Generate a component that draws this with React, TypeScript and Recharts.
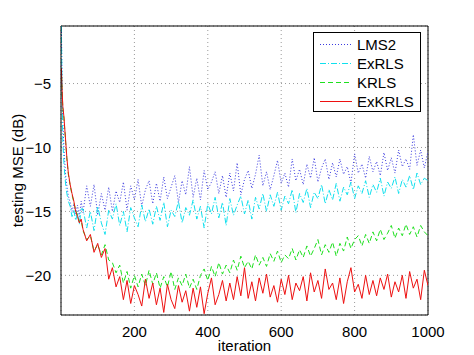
import { LineChart, Line, XAxis, YAxis, CartesianGrid, ReferenceLine } from "recharts";

const iterations = [
  1, 3, 5, 8, 10, 13, 16, 20, 25, 30, 35, 40, 45, 50, 55,
  60, 70, 80, 90, 100, 110, 120, 130, 140, 150,
  160, 170, 180, 190, 200, 210, 220, 230, 240, 250,
  260, 270, 280, 290, 300, 310, 320, 330, 340, 350,
  360, 370, 380, 390, 400, 410, 420, 430, 440, 450,
  460, 470, 480, 490, 500, 510, 520, 530, 540, 550,
  560, 570, 580, 590, 600, 610, 620, 630, 640, 650,
  660, 670, 680, 690, 700, 710, 720, 730, 740, 750,
  760, 770, 780, 790, 800, 810, 820, 830, 840, 850,
  860, 870, 880, 890, 900, 910, 920, 930, 940, 950,
  960, 970, 980, 990, 1000,
];

const lms2 = [
  -0.5, -5.0, -8.0, -10.0, -11.0, -12.3, -13.0, -13.8, -14.3, -15.0, -14.4, -15.2, -14.5, -15.4, -14.2,
  -15.1, -13.0, -14.6, -12.9, -15.3, -13.6, -14.9, -13.1, -15.0, -13.4,
  -14.3, -12.7, -14.9, -13.0, -14.1, -12.5, -14.6, -13.3, -12.6, -14.4,
  -12.8, -14.2, -12.3, -14.0, -13.1, -12.2, -14.3, -12.6, -13.7, -11.5,
  -13.9, -12.4, -14.1, -11.8, -13.3, -12.7, -11.9, -13.6, -12.2, -13.9,
  -12.0, -13.4, -11.2, -13.7, -12.5, -11.8, -13.2, -12.1, -10.6, -13.0,
  -11.9, -13.3, -12.2, -11.0, -12.8, -12.0, -13.1, -10.9, -12.6, -11.7,
  -12.9, -11.3, -12.4, -10.8, -12.7, -11.6, -10.9, -12.5, -11.2, -12.3,
  -10.9, -12.1, -11.5, -12.8, -10.5, -12.0, -11.3, -12.4, -10.7, -11.9,
  -11.1, -12.2, -10.4, -11.8, -10.8, -12.0, -10.2, -11.5, -10.9, -11.7,
  -9.0, -11.4, -10.2, -11.6, -10.3,
];

const exrls = [
  -0.5, -6.0, -9.5, -11.2, -12.0, -13.0, -13.6, -14.2, -14.6, -15.4, -14.9, -15.7, -15.1, -16.0, -14.8,
  -14.8, -16.3, -15.0, -16.5, -14.6, -15.9, -16.8, -14.9, -15.6, -14.4,
  -16.1, -15.0, -16.6, -14.7, -15.5, -16.2, -14.5, -15.8, -14.8, -16.0,
  -14.6, -15.7, -14.3, -16.2, -14.9, -15.4, -14.2, -15.9, -14.7, -15.3,
  -14.1, -15.6, -14.6, -16.3, -14.4, -15.2, -13.9, -15.5, -14.3, -16.1,
  -14.0, -15.3, -14.5, -13.8, -15.2, -14.1, -15.6, -13.9, -14.8, -13.6,
  -15.0, -13.7, -14.6, -13.5, -14.9, -13.8, -14.4, -13.3, -15.1, -13.6,
  -14.3, -13.2, -14.7, -13.5, -14.0, -12.9, -14.4, -13.3, -14.1, -12.8,
  -14.2, -13.1, -13.7, -12.7, -14.0, -13.0, -13.6, -12.6, -13.9, -12.9,
  -13.5, -12.4, -13.8, -12.7, -13.2, -12.3, -13.6, -12.5, -13.1, -12.2,
  -13.3, -12.0, -12.9, -12.4, -12.6,
];

const krls = [
  -3.8, -5.6, -6.9, -7.7, -8.5, -9.7, -10.9, -12.1, -13.0, -13.7, -14.3, -14.9, -15.3, -15.8, -15.7,
  -16.5, -17.2, -16.9, -18.1, -17.6, -18.4, -17.6, -18.8, -19.0, -19.8,
  -19.2, -20.6, -19.7, -21.0, -20.0, -20.9, -19.9, -20.8, -19.6, -20.7,
  -19.8, -21.0, -20.1, -20.9, -19.7, -21.1, -20.2, -20.8, -19.9, -21.0,
  -20.3, -21.1, -20.0, -19.5, -20.4, -19.3, -20.1, -19.0, -19.9, -19.2,
  -19.8, -18.8, -19.6, -18.5, -19.4, -18.9, -19.5, -18.4, -19.2, -18.6,
  -19.3, -18.3, -18.9, -18.1, -19.0, -18.4, -18.7, -17.9, -18.8, -18.0,
  -18.6, -17.7, -18.5, -17.9, -17.2, -18.4, -17.6, -18.2, -17.4, -18.5,
  -17.5, -18.1, -17.0, -17.9, -17.2, -16.9, -17.7, -16.8, -17.5, -16.6,
  -17.3, -16.4, -17.2, -16.7, -16.1, -17.1, -16.3, -16.9, -16.0, -16.8,
  -16.2, -17.0, -16.1, -16.6, -16.9,
];

const exkrls = [
  -3.8, -5.5, -6.8, -7.6, -8.4, -9.6, -10.8, -12.0, -12.9, -13.6, -14.2, -15.0, -15.4, -15.9, -15.6,
  -16.4, -17.3, -16.8, -18.2, -17.5, -18.6, -17.9, -20.3, -19.4, -20.9,
  -20.1, -21.9, -20.4, -22.2, -20.8, -21.5, -22.4, -20.3, -21.8, -20.6,
  -22.3, -21.0, -22.9, -20.7, -21.9, -22.6, -20.8, -22.1, -21.2, -22.8,
  -21.0, -22.5, -20.9, -23.0, -21.4, -20.2, -22.3, -21.5, -20.4, -22.0,
  -20.6, -21.9, -20.1, -21.6, -19.4, -21.8, -20.5, -22.0, -20.2, -21.4,
  -19.9, -21.7, -20.8, -22.1, -20.3, -21.5, -20.0, -21.9, -20.6, -21.2,
  -20.1, -22.0, -19.8, -21.3, -20.4, -21.8, -19.5, -21.1, -20.6, -21.9,
  -20.2, -22.2, -20.5, -19.4, -21.3, -20.7, -21.8, -20.0, -21.5, -20.4,
  -21.6, -20.2, -21.1, -19.9, -21.7, -20.5, -21.3, -20.0, -21.8, -19.7,
  -21.0, -20.3, -21.9, -19.6, -20.8,
];

const xTicks = [200, 400, 600, 800, 1000];
const yTicks = [-20, -15, -10, -5];

const series = [
  { key: "lms2", name: "LMS2", color: "#3a3ae0", dash: "1 2" },
  { key: "exrls", name: "ExRLS", color: "#10e0ee", dash: "6 2 1 2" },
  { key: "krls", name: "KRLS", color: "#1ee01e", dash: "5 3" },
  { key: "exkrls", name: "ExKRLS", color: "#ee1010", dash: undefined },
];

const data = iterations.map((it, i) => ({
  it,
  lms2: lms2[i],
  exrls: exrls[i],
  krls: krls[i],
  exkrls: exkrls[i],
}));

const FONT = "'Liberation Sans', Arial, Helvetica, sans-serif";

// MATLAB-style boxed legend, laid over the plot (top right)
function MatlabLegend() {
  return (
    <div
      style={{
        position: "absolute",
        left: 313,
        top: 32,
        width: 108,
        height: 80,
        border: "1px solid #000",
        background: "#fff",
        boxSizing: "border-box",
        paddingTop: 2,
        fontFamily: FONT,
        fontSize: 15,
        color: "#000",
      }}
    >
      {series.map((s) => (
        <div key={s.key} style={{ display: "flex", alignItems: "center", height: 19 }}>
          <svg width={40} height={19} style={{ display: "block" }}>
            <line x1={6} x2={38} y1={9.5} y2={9.5} stroke={s.color} strokeWidth={1} strokeDasharray={s.dash} />
          </svg>
          <span style={{ marginLeft: 3, lineHeight: "19px" }}>{s.name}</span>
        </div>
      ))}
    </div>
  );
}

export default function App() {
  return (
    <div style={{ position: "absolute", left: 0, top: 0, width: 474, height: 355, background: "#fff" }}>
      <LineChart width={474} height={355} data={data} margin={{ top: 26, right: 46, bottom: 0, left: 0 }}>
        <CartesianGrid stroke="#9a9a9a" strokeDasharray="1 3" />
        <XAxis
          dataKey="it"
          type="number"
          domain={[0, 1000]}
          ticks={xTicks}
          allowDataOverflow
          height={40}
          stroke="#000"
          tickLine={false}
          tick={{ fill: "#000", fontSize: 15, fontFamily: FONT }}
          tickMargin={5}
          label={{ value: "iteration", position: "insideBottom", offset: 4, fill: "#000", fontSize: 15, fontFamily: FONT }}
        />
        <YAxis
          type="number"
          domain={[-23.1, -0.5]}
          ticks={yTicks}
          allowDataOverflow
          width={61}
          stroke="#000"
          tickLine={false}
          tickMargin={4}
          tickFormatter={(v: number) => String(v).replace("-", "\u2212")}
          tick={{ fill: "#000", fontSize: 15, fontFamily: FONT }}
          label={{
            value: "testing MSE (dB)",
            angle: -90,
            position: "insideLeft",
            offset: 18,
            style: { textAnchor: "middle" },
            fill: "#000",
            fontSize: 15,
            fontFamily: FONT,
          }}
        />
        <ReferenceLine y={-0.5} stroke="#000" />
        <ReferenceLine x={1000} stroke="#000" />
        {series.map((s) => (
          <Line
            key={s.key}
            dataKey={s.key}
            name={s.name}
            type="linear"
            stroke={s.color}
            strokeWidth={1}
            strokeDasharray={s.dash}
            dot={false}
            isAnimationActive={false}
          />
        ))}
      </LineChart>
      <MatlabLegend />
    </div>
  );
}
